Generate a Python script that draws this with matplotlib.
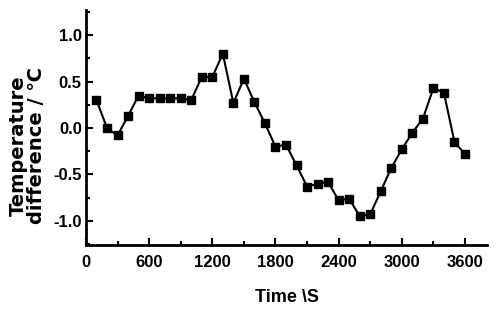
import matplotlib
matplotlib.use("Agg")
import matplotlib.pyplot as plt
from matplotlib.ticker import MultipleLocator

# temperature difference logged every 100 s
time_s = [100, 200, 300, 400, 500, 600, 700, 800, 900, 1000,
          1100, 1200, 1300, 1400, 1500, 1600, 1700, 1800, 1900, 2000,
          2100, 2200, 2300, 2400, 2500, 2600, 2700, 2800, 2900, 3000,
          3100, 3200, 3300, 3400, 3500, 3600]
temp_diff = [0.30, 0.00, -0.08, 0.13, 0.35, 0.32, 0.32, 0.32, 0.32, 0.30,
             0.55, 0.55, 0.80, 0.27, 0.53, 0.28, 0.05, -0.20, -0.18, -0.40,
             -0.63, -0.60, -0.58, -0.78, -0.76, -0.95, -0.93, -0.68, -0.43, -0.23,
             -0.05, 0.10, 0.43, 0.38, -0.15, -0.28]

x_ticks = [0, 600, 1200, 1800, 2400, 3000, 3600]
y_ticks = [-1.0, -0.5, 0.0, 0.5, 1.0]

tick_font = ['Liberation Sans', 'DejaVu Sans']
label_font = ['DejaVu Sans']

fig = plt.figure(figsize=(4.94, 3.25), dpi=100)
ax = fig.add_axes([0.174, 0.246, 0.812, 0.723])

ax.plot(time_s, temp_diff, color='black', lw=1.5, marker='s', ms=6, mfc='black', mec='black')

ax.set_xlim(0, 3810)
ax.set_ylim(-1.26, 1.27)
ax.set_xticks(x_ticks)
ax.set_yticks(y_ticks)
ax.xaxis.set_minor_locator(MultipleLocator(300))
ax.yaxis.set_minor_locator(MultipleLocator(0.25))
ax.set_xticklabels([str(t) for t in x_ticks], family=tick_font, fontweight='bold', fontsize=12)
ax.set_yticklabels(['%.1f' % t for t in y_ticks], family=tick_font, fontweight='bold', fontsize=12)

ax.tick_params(which='major', direction='in', length=5, width=1.5)
ax.tick_params(axis='x', which='major', pad=7)
ax.tick_params(axis='y', which='major', pad=3)
ax.tick_params(which='minor', direction='in', length=3, width=1.5)

for side in ['top', 'right']:
    ax.spines[side].set_visible(False)
for side in ['left', 'bottom']:
    ax.spines[side].set_linewidth(2)

ax.set_xlabel('Time \\S', family=tick_font, fontweight='bold', fontsize=13, labelpad=14)

# two-line y label placed by hand so it sits close to the left edge
fig.text(27 / 494, 1 - 146 / 325, 'Temperature\ndifference / \u2103', family=label_font,
         fontweight='bold', fontsize=14, rotation=90, ha='center', va='center',
         multialignment='center', linespacing=0.95)

fig.savefig('out.png', dpi=100)
